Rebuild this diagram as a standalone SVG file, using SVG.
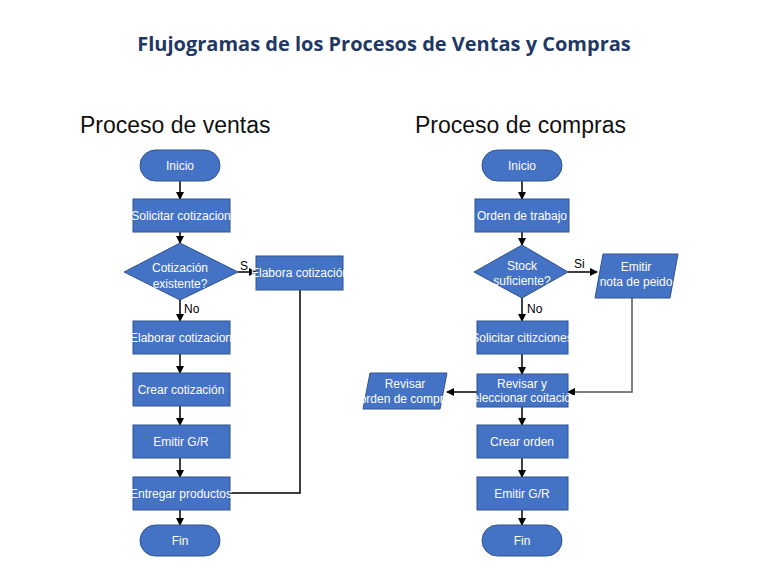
<svg xmlns="http://www.w3.org/2000/svg" width="768" height="576" viewBox="0 0 768 576">
<style>
.n{fill:#4472C4;stroke:#2F528F;stroke-width:1}
.t{fill:#fff;font-family:"Liberation Sans",Arial,sans-serif;font-size:12px;text-anchor:middle}
.l{fill:#000;font-family:"Liberation Sans",Arial,sans-serif;font-size:12px}
.c{stroke:#000;stroke-width:1.5;fill:none}
.g{stroke:#555;stroke-width:1.5;fill:none}
.h{font-family:"Liberation Sans",Arial,sans-serif;font-size:23px;fill:#111}
</style>
<defs><marker id="a" markerWidth="8" markerHeight="8" refX="7" refY="4" orient="auto" markerUnits="userSpaceOnUse"><path d="M0,0L8,4L0,8z" fill="#000"/></marker></defs>
<rect width="768" height="576" fill="#fff"/>
<text x="384" y="51" text-anchor="middle" font-family="'Open Sans',sans-serif" font-weight="bold" font-size="20" fill="#1F3864">Flujogramas de los Procesos de Ventas y Compras</text>
<text class="h" x="80" y="133">Proceso de ventas</text>
<text class="h" x="415" y="133">Proceso de compras</text>
<g id="connectors">
<path class="c" marker-end="url(#a)" d="M180,181V199"/>
<path class="c" marker-end="url(#a)" d="M180,232V243"/>
<path class="c" marker-end="url(#a)" d="M238,272H256"/>
<path class="c" marker-end="url(#a)" d="M180,300V321"/>
<path class="c" marker-end="url(#a)" d="M180,354V373"/>
<path class="c" marker-end="url(#a)" d="M180,406V425"/>
<path class="c" marker-end="url(#a)" d="M180,458V477"/>
<path class="c" marker-end="url(#a)" d="M180,510V525"/>
<path class="c" d="M300,290V493H230"/>
<path class="c" marker-end="url(#a)" d="M522,181V199"/>
<path class="c" marker-end="url(#a)" d="M522,232V245"/>
<path class="c" marker-end="url(#a)" d="M568,272H597"/>
<path class="c" marker-end="url(#a)" d="M522,298V321"/>
<path class="c" marker-end="url(#a)" d="M522,354V374"/>
<path class="g" marker-end="url(#a)" d="M632,298V392H568"/>
<path class="c" marker-end="url(#a)" d="M477,392H447"/>
<path class="c" marker-end="url(#a)" d="M522,407V425"/>
<path class="c" marker-end="url(#a)" d="M522,458V477"/>
<path class="c" marker-end="url(#a)" d="M522,510V525"/>
</g>
<text class="l" x="240" y="270">S</text>
<text class="l" x="184" y="313">No</text>
<text class="l" x="574" y="268">Si</text>
<text class="l" x="527" y="313">No</text>
<g id="v-inicio"><rect class="n" x="140" y="150" width="80" height="31" rx="15.5"/><text class="t" x="180" y="170">Inicio</text></g>
<g id="v-solicitar"><rect class="n" x="133" y="199" width="97" height="33"/><text class="t" x="181" y="220">Solicitar cotizacion</text></g>
<g id="v-dec"><polygon class="n" points="180,243 238,272 180,300 124,272"/><text class="t" x="180" y="272">Cotización</text><text class="t" x="180" y="288">existente?</text></g>
<g id="v-elabora"><rect class="n" x="256" y="256" width="87" height="34"/><text class="t" x="300" y="277">Elabora cotización</text></g>
<g id="v-elaborar"><rect class="n" x="133" y="321" width="97" height="33"/><text class="t" x="181" y="342">Elaborar cotizacion</text></g>
<g id="v-crear"><rect class="n" x="133" y="373" width="97" height="33"/><text class="t" x="181" y="394">Crear cotización</text></g>
<g id="v-emitir"><rect class="n" x="133" y="425" width="97" height="33"/><text class="t" x="181" y="446">Emitir G/R</text></g>
<g id="v-entregar"><rect class="n" x="133" y="477" width="97" height="33"/><text class="t" x="181" y="498">Entregar productos</text></g>
<g id="v-fin"><rect class="n" x="140" y="525" width="80" height="31" rx="15.5"/><text class="t" x="180" y="545">Fin</text></g>
<g id="c-inicio"><rect class="n" x="482" y="150" width="80" height="31" rx="15.5"/><text class="t" x="522" y="170">Inicio</text></g>
<g id="c-orden"><rect class="n" x="475" y="199" width="94" height="33"/><text class="t" x="522" y="220">Orden de trabajo</text></g>
<g id="c-dec"><polygon class="n" points="522,245 568,272 522,298 474,272"/><text class="t" x="522" y="270">Stock</text><text class="t" x="522" y="285">suficiente?</text></g>
<g id="c-emitirnota"><polygon class="n" points="603,254 678,254 670,298 595,298"/><text class="t" x="636" y="271">Emitir</text><text class="t" x="636" y="286">nota de peido</text></g>
<g id="c-solicitar"><rect class="n" x="477" y="321" width="91" height="33"/><text class="t" x="522" y="342">Solicitar citizciones</text></g>
<g id="c-revisar"><rect class="n" x="477" y="374" width="91" height="33"/><text class="t" x="522" y="388">Revisar y</text><text class="t" x="522" y="402" font-size="10.5">seleccionar coitación</text></g>
<g id="c-revisarorden"><polygon class="n" points="370,373 447,373 440,409 363,409"/><text class="t" x="405" y="388">Revisar</text><text class="t" x="405" y="403" font-size="10.5">orden de compra</text></g>
<g id="c-crear"><rect class="n" x="477" y="425" width="91" height="33"/><text class="t" x="522" y="446">Crear orden</text></g>
<g id="c-emitir"><rect class="n" x="477" y="477" width="91" height="33"/><text class="t" x="522" y="498">Emitir G/R</text></g>
<g id="c-fin"><rect class="n" x="482" y="525" width="80" height="31" rx="15.5"/><text class="t" x="522" y="545">Fin</text></g>
</svg>
